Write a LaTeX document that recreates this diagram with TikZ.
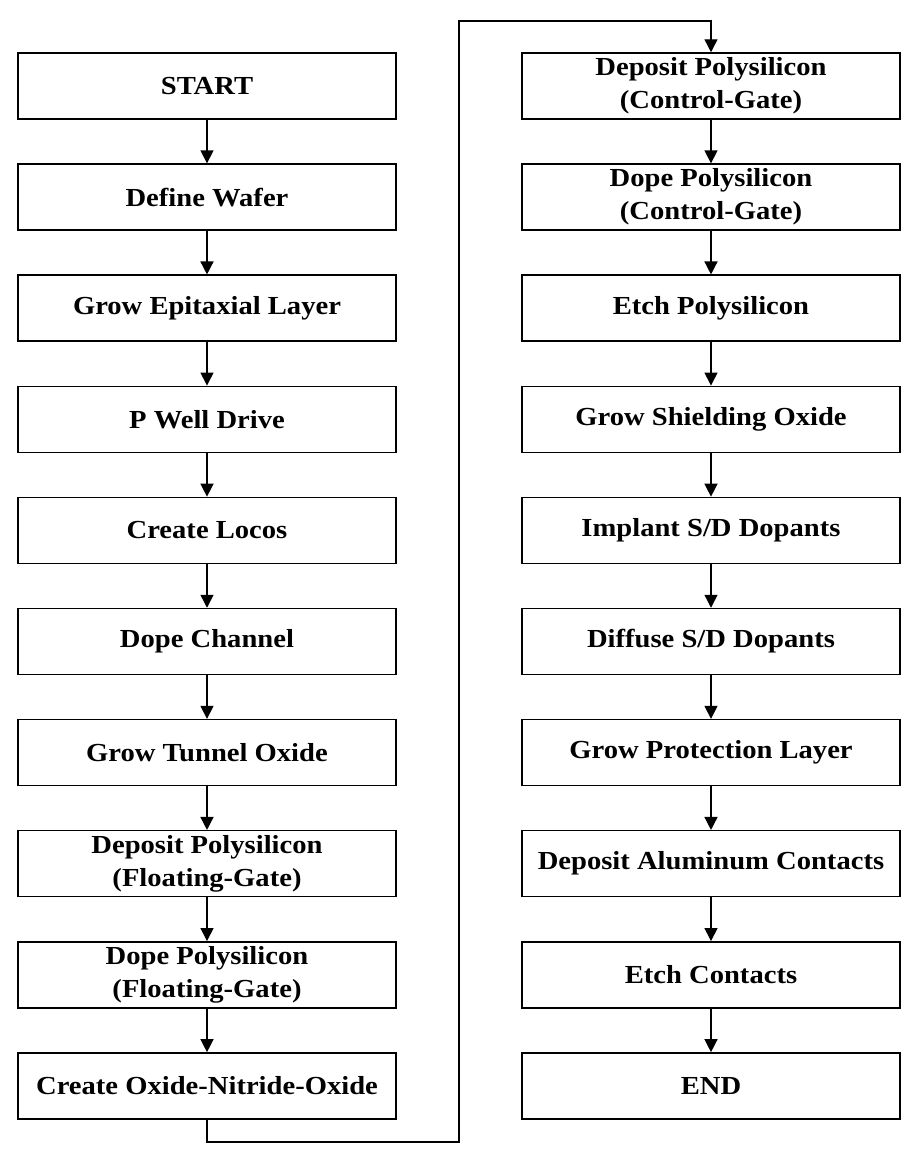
\documentclass[tikz,border=0pt]{standalone}
\usepackage{fontspec}
\setmainfont{Liberation Serif}[FakeStretch=1.1]
\usetikzlibrary{arrows.meta}
\begin{document}
\begin{tikzpicture}[x=1pt,y=-1pt,
  stepbox/.style={draw, line width=1.5pt, minimum width=378pt, minimum height=66pt, inner sep=0pt,
    align=center, font=\fontsize{26}{33}\selectfont\bfseries},
  flow/.style={line width=1.4pt, -{Triangle[length=13pt,width=13pt]}}]
\useasboundingbox (0,0) rectangle (918,1152);
\fill[white] (0,0) rectangle (918,1152);
% left column
\node[stepbox] (l0) at (207,86) {START};
\node[stepbox] (l1) at (207,197.1) {Define Wafer};
\node[stepbox] (l2) at (207,308.2) {Grow Epitaxial Layer};
\node[stepbox] (l3) at (207,419.3) {P Well Drive};
\node[stepbox] (l4) at (207,530.4) {Create Locos};
\node[stepbox] (l5) at (207,641.5) {Dope Channel};
\node[stepbox] (l6) at (207,752.6) {Grow Tunnel Oxide};
\node[stepbox] (l7) at (207,863.7) {Deposit Polysilicon\\(Floating-Gate)};
\node[stepbox] (l8) at (207,974.8) {Dope Polysilicon\\(Floating-Gate)};
\node[stepbox] (l9) at (207,1085.9) {Create Oxide-Nitride-Oxide};
% right column
\node[stepbox] (r0) at (711,86) {Deposit Polysilicon\\(Control-Gate)};
\node[stepbox] (r1) at (711,197.1) {Dope Polysilicon\\(Control-Gate)};
\node[stepbox] (r2) at (711,308.2) {Etch Polysilicon};
\node[stepbox] (r3) at (711,419.3) {Grow Shielding Oxide};
\node[stepbox] (r4) at (711,530.4) {Implant S/D Dopants};
\node[stepbox] (r5) at (711,641.5) {Diffuse S/D Dopants};
\node[stepbox] (r6) at (711,752.6) {Grow Protection Layer};
\node[stepbox] (r7) at (711,863.7) {Deposit Aluminum Contacts};
\node[stepbox] (r8) at (711,974.8) {Etch Contacts};
\node[stepbox] (r9) at (711,1085.9) {END};
% connectors
\foreach \a/\b in {0/1,1/2,2/3,3/4,4/5,5/6,6/7,7/8,8/9}{
  \draw[flow] (l\a.south) -- (l\b.north);
  \draw[flow] (r\a.south) -- (r\b.north);
}
\coordinate (c1) at (207,1142);
\coordinate (c2) at (459,1142);
\coordinate (c3) at (459,21);
\coordinate (c4) at (711,21);
\draw[flow] (l9.south) -- (c1) -- (c2) -- (c3) -- (c4) -- (r0.north);
\end{tikzpicture}
\end{document}
